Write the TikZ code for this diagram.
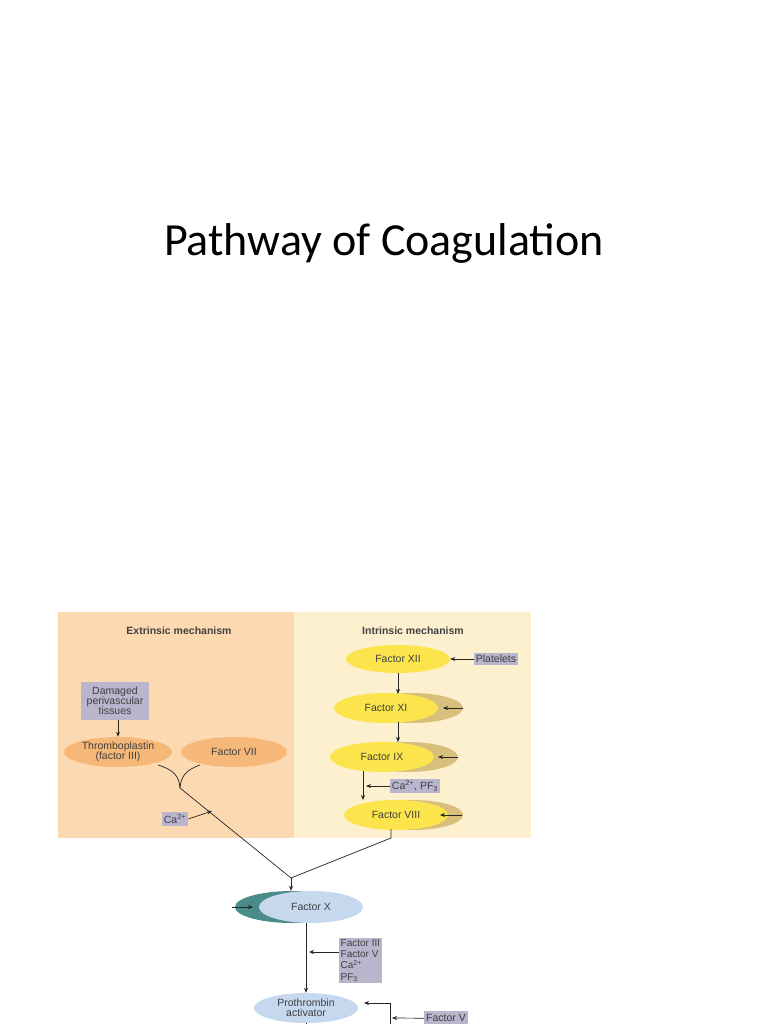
\documentclass[tikz,border=0pt]{standalone}
\usepackage{fontspec}
\setmainfont{Liberation Sans}
\newfontfamily\titlefont{Carlito}
\usetikzlibrary{arrows.meta,shapes.geometric}
\definecolor{peach}{HTML}{FDD9B2}
\definecolor{cream}{HTML}{FDF0CF}
\definecolor{lav}{HTML}{B9B5CC}
\definecolor{orng}{HTML}{F6B878}
\definecolor{yel}{HTML}{FCE54C}
\definecolor{tan}{HTML}{D8C07C}
\definecolor{lblue}{HTML}{C6D8EE}
\definecolor{teal}{HTML}{4A8C8A}
\tikzset{
 lbl/.style={font=\fontsize{10.5}{10}\selectfont, text=black!75},
 box/.style={lbl, fill=lav, inner sep=2pt, align=left},
 ov/.style={ellipse, minimum height=30pt, lbl, align=center, inner sep=0pt},
 arr/.style={-{Stealth[length=5pt,width=4pt]}, black!85, line width=0.7pt},
 ln/.style={black!85, line width=0.7pt}
}
\begin{document}
\begin{tikzpicture}[x=1pt,y=-1pt]
\useasboundingbox (0,0) rectangle (768,1024);
\fill[white] (0,0) rectangle (768,1024);
\node[font=\titlefont\fontsize{46}{50}\selectfont] (title) at (384,243) {Pathway of Coagulation};
\fill[peach] (58,612) rectangle (294,838);
\fill[cream] (294,612) rectangle (531,838);
\node[lbl, font=\bfseries\fontsize{10.5}{10}\selectfont] (ext) at (179,631) {Extrinsic mechanism};
\node[lbl, font=\bfseries\fontsize{10.5}{10}\selectfont] (int) at (413,631) {Intrinsic mechanism};
% extrinsic
\node[box, align=center, minimum width=68pt, minimum height=38pt] (dmg) at (115,701) {Damaged\\perivascular\\tissues};
\node[ov, fill=orng, minimum width=108pt] (thr) at (118,752) {Thromboplastin\\(factor III)};
\node[ov, fill=orng, minimum width=106pt] (f7) at (234,752) {Factor VII};
\draw[arr] (dmg.south -| thr) -- (thr.north);
\coordinate (j1) at (180,788);
\draw[ln] (158,765) .. controls (174,770) and (179,776) .. (j1);
\draw[ln] (200,765) .. controls (186,770) and (181,776) .. (j1);
\node[box] (ca1) at (175,819) {Ca\textsuperscript{2+}};
\draw[arr] (ca1.east) -- (212,811);
\coordinate (jx) at (291,878);
\draw[ln] (j1) -- (jx);
% intrinsic
\node[ov, fill=yel, minimum width=104pt, minimum height=28pt] (f12) at (398,659) {Factor XII};
\node[box] (plt) at (496,659) {Platelets};
\draw[arr] (plt.west) -- (f12.east);
\fill[tan] (412,708) ellipse (51 and 15);
\node[ov, fill=yel, minimum width=104pt] (f11) at (386,708) {Factor XI};
\draw[arr] (463,708) -- (443,708);
\fill[tan] (408,757) ellipse (50 and 15);
\node[ov, fill=yel, minimum width=104pt] (f9) at (382,757) {Factor IX};
\draw[arr] (458,757) -- (438,757);
\fill[tan] (413,815) ellipse (50 and 15);
\node[ov, fill=yel, minimum width=104pt] (f8) at (396,815) {Factor VIII};
\draw[arr] (462,815) -- (440,815);
\draw[arr] (f12.south) -- (398,694);
\draw[arr] (398,722) -- (398,742);
\draw[arr] (363,771) -- (363,800);
\node[box] (cap) at (415,786) {Ca\textsuperscript{2+}, PF\textsubscript{3}};
\draw[arr] (cap.west) -- (366,786);
\draw[ln] (391,829) -- (391,838) -- (jx);
% factor X
\fill[teal] (292,907) ellipse (57 and 16);
\node[ov, fill=lblue, minimum width=104pt, minimum height=32pt] (fx) at (311,907) {Factor X};
\draw[arr] (jx) -- (fx.north -| jx);
\draw[arr] (232,907) -- (253,907);
\node[ov, fill=lblue, minimum width=104pt] (pa) at (306,1008) {Prothrombin\\activator};
\draw[arr] (306,923) -- (pa.north);
\node[box, anchor=north west, inner sep=1.5pt, font=\fontsize{10}{11.2}\selectfont] (f3) at (339,938) {Factor III\\Factor V\\Ca\textsuperscript{2+}\\PF\textsubscript{3}};
\draw[arr] (f3.west |- 0,952) -- (309,952);
\node[box, anchor=north west, minimum height=14pt] (f5) at (424,1011) {Factor V};
\draw[arr] (f5.west) -- (392,1018);
\draw[ln] (390,1024) -- (390,1003);
\draw[arr] (390,1003) -- (364,1003);
\draw[ln] (306,1023) -- (306,1024);
\end{tikzpicture}
\end{document}
